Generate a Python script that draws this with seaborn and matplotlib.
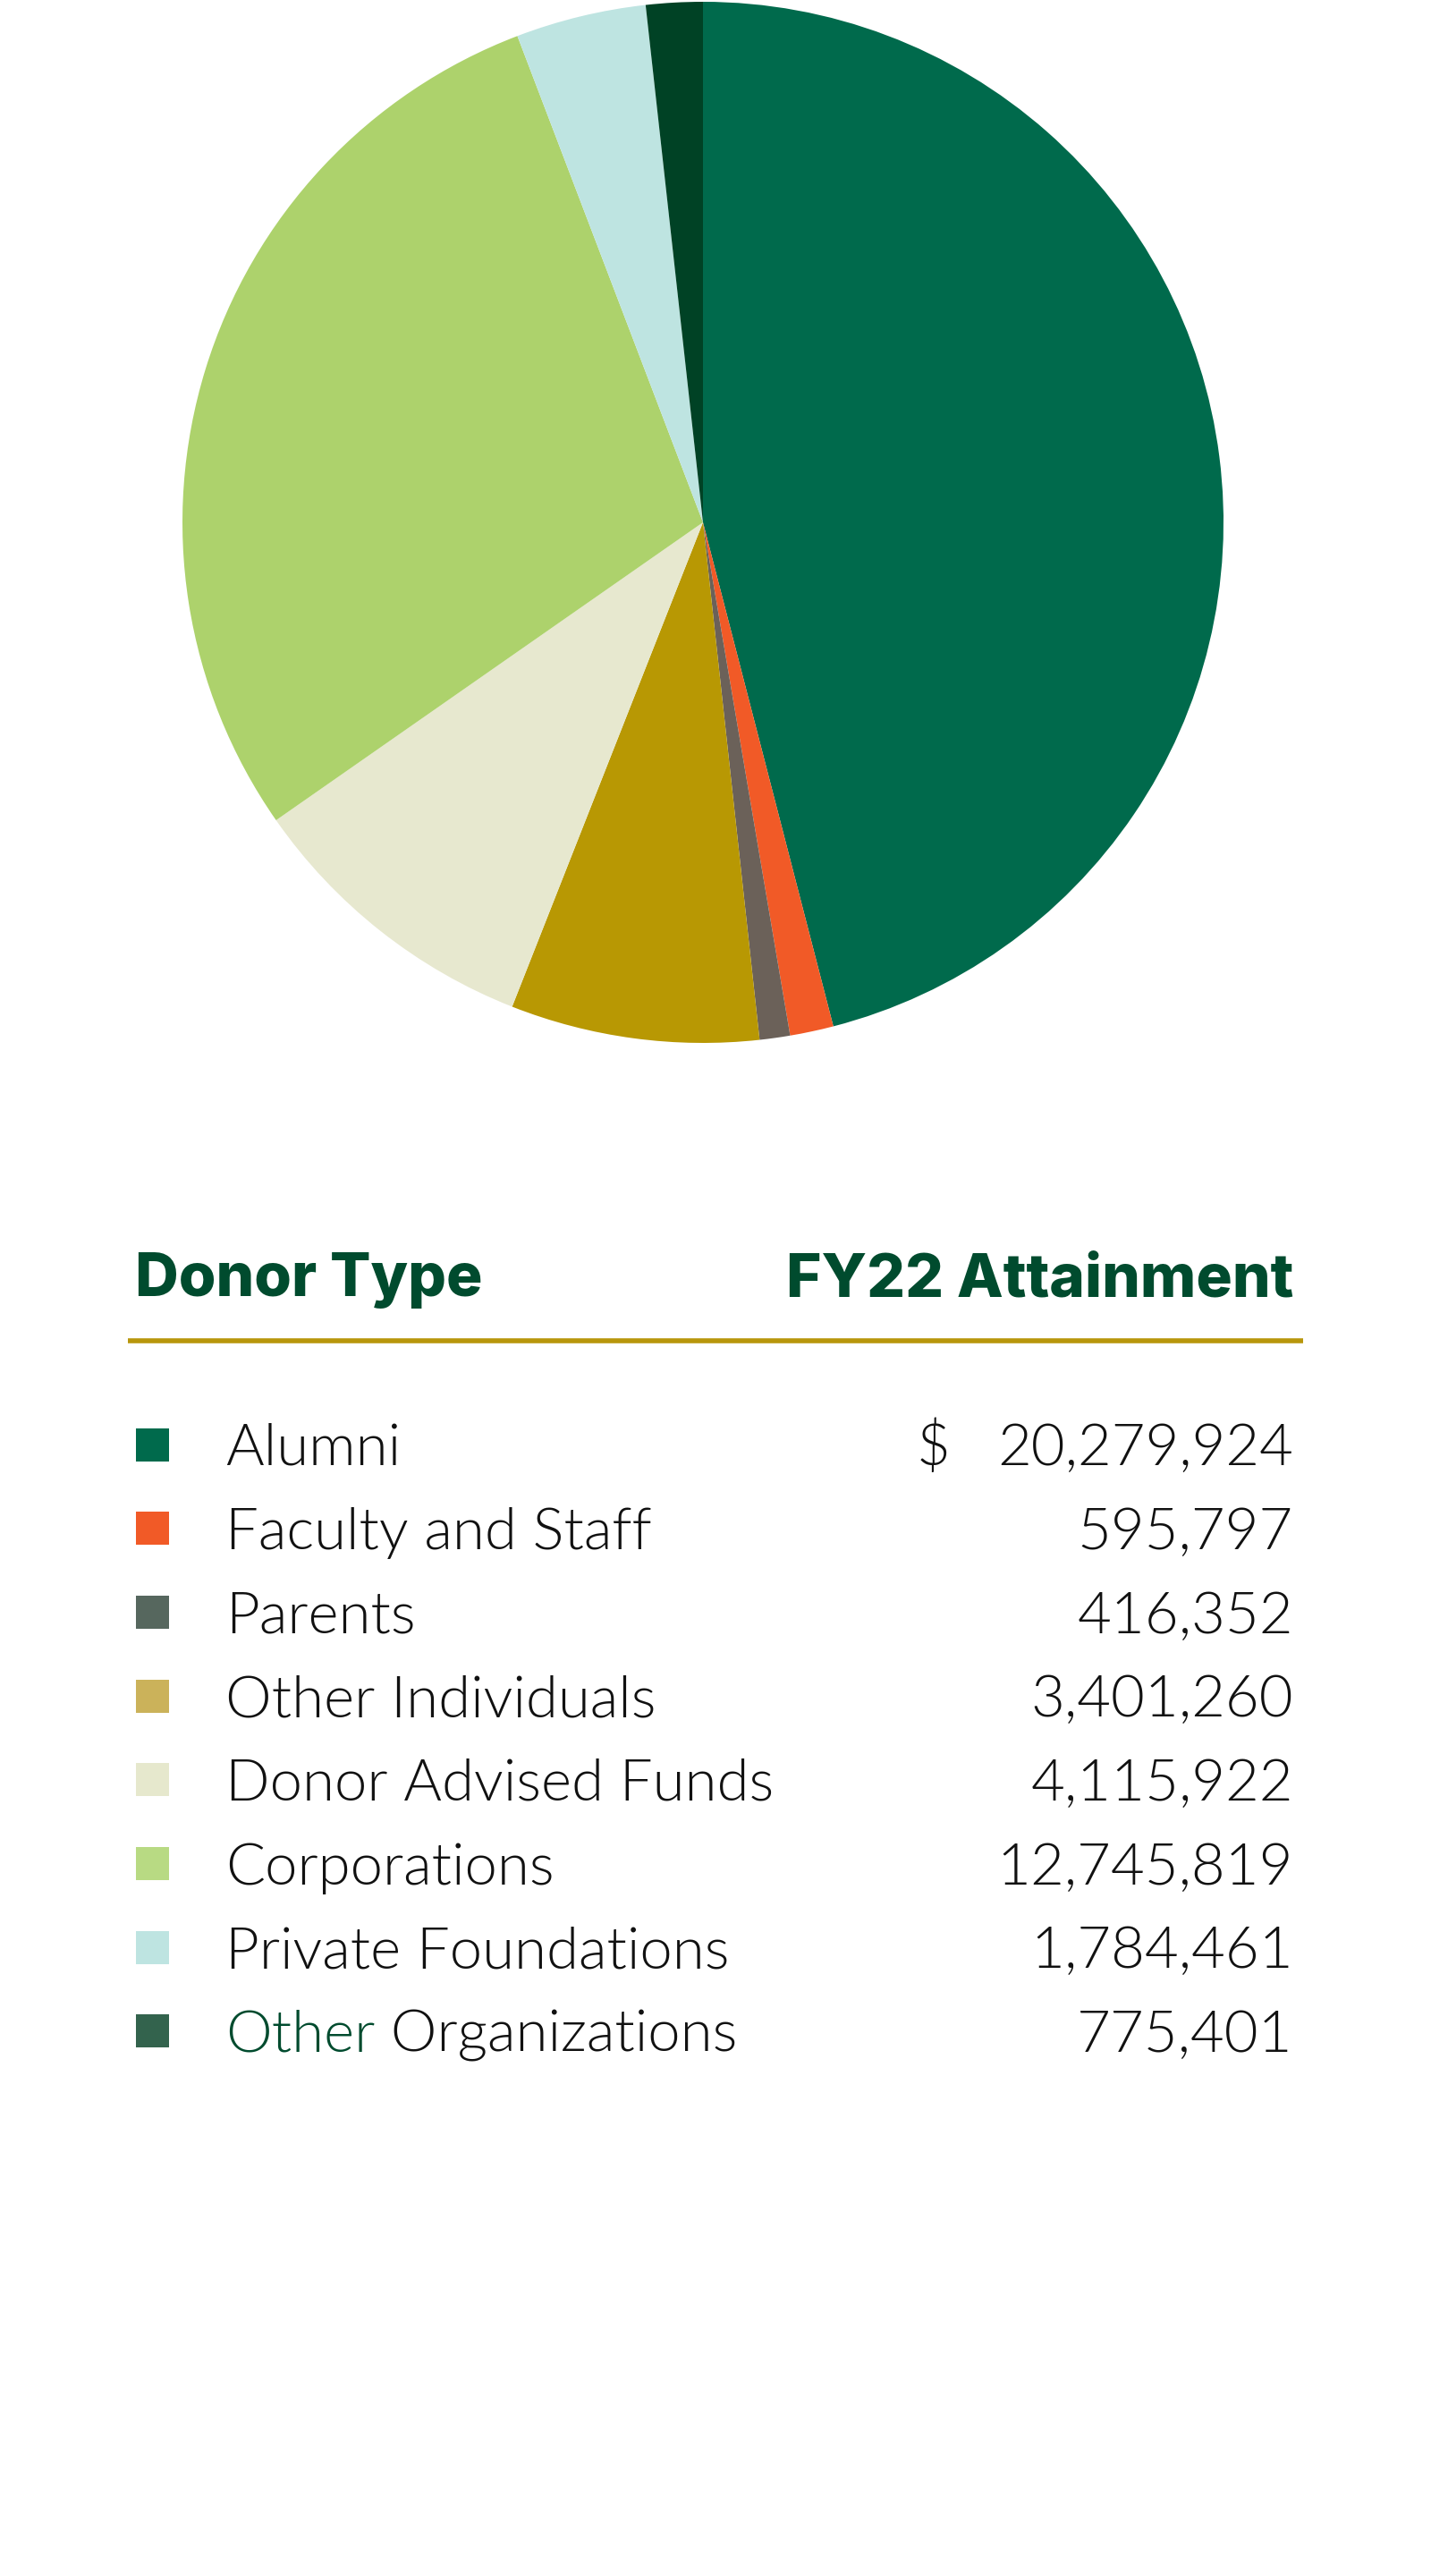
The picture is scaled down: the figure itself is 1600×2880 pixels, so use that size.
import matplotlib
matplotlib.use("Agg")
import matplotlib.pyplot as plt
import pandas as pd
import seaborn as sns

sns.set_theme(style="white")
plt.rcParams['font.family'] = ['Lato', 'DejaVu Sans']

# data
donor_types = ["Alumni", "Faculty and Staff", "Parents", "Other Individuals",
               "Donor Advised Funds", "Corporations", "Private Foundations",
               "Other Organizations"]
attainment = [20279924, 595797, 416352, 3401260, 4115922, 12745819, 1784461, 775401]
pie_colors = ["#006A4C", "#F15A27", "#6B6159", "#B89803",
              "#E7E8CF", "#ADD26C", "#BEE4E1", "#004225"]
key_colors = ["#006A4C", "#F15A27", "#56675E", "#CBB25A",
              "#E6E8CD", "#B8DA83", "#BEE4E1", "#33634D"]

df = pd.DataFrame({"type": donor_types, "amount": attainment})

W, H = 1600, 2880
fig = plt.figure(figsize=(W / 100, H / 100), dpi=100)
fig.patch.set_facecolor("white")

# pie
cx, cy, r = 786, 584, 582
ax = fig.add_axes([(cx - r) / W, 1 - (cy + r) / H, 2 * r / W, 2 * r / H])
ax.pie(df["amount"], colors=pie_colors, startangle=90, counterclock=False,
       radius=1, wedgeprops=dict(linewidth=0))
ax.set_xlim(-1, 1)
ax.set_ylim(-1, 1)
ax.set_aspect("equal")
ax.axis("off")

# table, drawn in pixel coords
tx = fig.add_axes([0, 0, 1, 1])
tx.set_xlim(0, W)
tx.set_ylim(H, 0)
tx.axis("off")
tx.patch.set_alpha(0)

head_green = "#004B2E"
head_kw = dict(fontsize=48.5, fontweight=800, family=["Inter", "DejaVu Sans"],
               color=head_green, va="baseline")
tx.text(151, 1449, "Donor Type", ha="left", **head_kw)
tx.text(1446, 1449, "FY22 Attainment", ha="right", **head_kw)
tx.plot([143, 1457], [1499, 1499], color="#B8960C", lw=4, solid_capstyle="butt")

body_kw = dict(fontsize=47, fontweight=300)
row0, step = 1638, 93.7
sq = 37
for i, (name, amt) in enumerate(zip(df["type"], df["amount"])):
    y = row0 + i * step
    tx.add_patch(plt.Rectangle((152, y - 23 - sq / 2), sq, sq, color=key_colors[i], lw=0))
    if name.startswith("Other Org"):
        t1 = tx.text(252, y, "Other", color=head_green, ha="left", va="baseline", **body_kw)
        tx.annotate(" Organizations", xycoords=t1, xy=(1, 0), ha="left", va="bottom",
                    color="#111111", **body_kw)
    else:
        tx.text(252, y, name, color="#111111", ha="left", va="baseline", **body_kw)
    tx.text(1446, y, f"{amt:,}", color="#111111", ha="right", va="baseline", **body_kw)
    if i == 0:
        tx.text(1025, y, "$", color="#111111", ha="left", va="baseline", **body_kw)

fig.savefig("out.png", dpi=100, facecolor="white")
